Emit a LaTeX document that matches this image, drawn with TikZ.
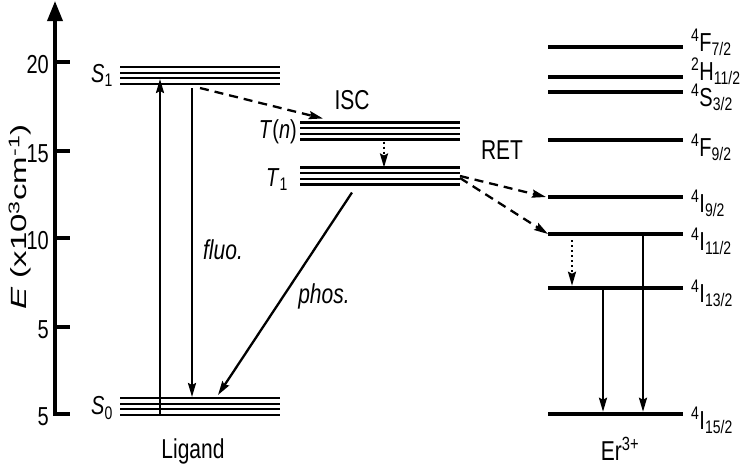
\documentclass[tikz,border=0pt]{standalone}
\usepackage{fontspec}
\setmainfont{Liberation Sans}
\usepackage{graphicx}
\usetikzlibrary{arrows.meta,positioning,calc}
\newcommand{\tallt}[1]{\scalebox{1}[1.3]{#1}}

\begin{document}
\begin{tikzpicture}[x=1pt,y=-1pt,>={Stealth[length=14pt,width=8pt,inset=2pt]},
  level/.style={line width=2.2pt},
  band/.style={minimum width=160pt,minimum height=17pt,inner sep=0pt,outer sep=0pt},
  erlevel/.style={fill=black,minimum width=135pt,minimum height=4.5pt,inner sep=0pt,outer sep=0pt},
  trans/.style={->,line width=2.3pt},
  nonrad/.style={->,line width=2.3pt,dash pattern=on 9pt off 6pt},
  relax/.style={->,line width=2.2pt,dash pattern=on 2pt off 3pt},
  lbl/.style={font=\fontsize{20}{24}\selectfont,inner sep=0pt},
  erlbl/.style={lbl,anchor=west}]
  \useasboundingbox (0,0) rectangle (747,467);

  % energy axis
  \coordinate (ax0) at (55,415);
  \coordinate (axtop) at (55,1);
  \draw[line width=3.5pt,-{Triangle[length=20pt,width=15pt]}] (ax0) -- (axtop);
  \foreach \y/\t in {62/20,151/15,238/10,327/5,414/5} {
    \draw[line width=4.5pt] (53.3,\y) -- (70,\y);
    \node[lbl,anchor=east] (tick\y) at (49,\y+3) {\tallt{\t}};
  }
  \node[lbl,font=\fontsize{22}{26}\selectfont,rotate=90] (ylab) at (20,217) {\scalebox{1.5}[1]{\textit{E} (x10\textsuperscript{3}cm\textsuperscript{-1})}};

  % ligand levels
  \node[band] (S1) at (200,75.5) {};
  \node[band] (S0) at (200,406.5) {};
  \node[band] (Tn) at (380,131) {};
  \node[band] (T1) at (380,176) {};
  \foreach \b in {S1,S0,Tn,T1}
    \foreach \d in {0,5.67,11.33,17}
      \draw[level] ([yshift=-\d pt]\b.north west) -- ([yshift=-\d pt]\b.north east);
  \node[lbl,left=7pt of S1] (lS1) {\tallt{\textit{S}\textsubscript{1}}};
  \node[lbl,left=7pt of S0,yshift=-1.5pt] (lS0) {\tallt{\textit{S}\textsubscript{0}}};
  \node[lbl,left=3pt of Tn,yshift=-1pt] (lTn) {\tallt{\textit{T}(\textit{n})}};
  \node[lbl,left=12pt of T1,yshift=-4pt] (lT1) {\tallt{\textit{T}\textsubscript{1}}};
  \node[lbl,font=\fontsize{21}{24}\selectfont,anchor=base] (lig) at (193,458) {\tallt{Ligand}};

  % Er levels
  \node[erlevel] (F72) at (615.5,47) {};
  \node[erlevel] (H112) at (615.5,77) {};
  \node[erlevel,minimum height=4pt] (S32) at (615.5,92) {};
  \node[erlevel,minimum height=4pt] (F92) at (615.5,140) {};
  \node[erlevel] (I92) at (615.5,197) {};
  \node[erlevel] (I112) at (615.5,234) {};
  \node[erlevel] (I132) at (615.5,288) {};
  \node[erlevel] (I152) at (615.5,414) {};
  \node[erlbl,right=8pt of F72,yshift=5pt] (lF72) {\tallt{\textsuperscript{4}F\textsubscript{7/2}}};
  \node[erlbl,right=8pt of H112,yshift=6pt] (lH112) {\tallt{\textsuperscript{2}H\textsubscript{11/2}}};
  \node[erlbl,right=8pt of S32,yshift=-5pt] (lS32) {\tallt{\textsuperscript{4}S\textsubscript{3/2}}};
  \node[erlbl,right=8pt of F92,yshift=-7pt] (lF92) {\tallt{\textsuperscript{4}F\textsubscript{9/2}}};
  \node[erlbl,right=8pt of I92,yshift=-6pt] (lI92) {\tallt{\textsuperscript{4}I\textsubscript{9/2}}};
  \node[erlbl,right=8pt of I112,yshift=-7pt] (lI112) {\tallt{\textsuperscript{4}I\textsubscript{11/2}}};
  \node[erlbl,right=8pt of I132,yshift=-5pt] (lI132) {\tallt{\textsuperscript{4}I\textsubscript{13/2}}};
  \node[erlbl,right=8pt of I152,yshift=-6pt] (lI152) {\tallt{\textsuperscript{4}I\textsubscript{15/2}}};
  \node[lbl,font=\fontsize{21}{24}\selectfont,anchor=base] (er) at (620,460) {\tallt{Er\textsuperscript{3+}}};

  % transitions
  \draw[trans] ([xshift=-40pt]S0.south) -- ([xshift=-40pt,yshift=5pt]S1.south);
  \draw[trans] ([xshift=-8pt,yshift=-4pt]S1.south) -- ([xshift=-8pt,yshift=1pt]S0.north);
  \draw[trans] ([xshift=-28pt,yshift=-8pt]T1.south) -- ([xshift=18pt,yshift=3pt]S0.north);
  \draw[nonrad] ([yshift=-4pt]S1.south) -- ([xshift=-57pt,yshift=4pt]Tn.north);
  \draw[relax] ([xshift=4pt,yshift=-2pt]Tn.south) -- ([xshift=4pt]T1.north);
  \draw[nonrad] (T1.east) -- ([xshift=-2pt]I92.west);
  \draw[nonrad] ([yshift=-2pt]T1.east) -- (I112.west);
  \draw[relax] ([xshift=-43.5pt,yshift=-4pt]I112.south) -- ([xshift=-43.5pt]I132.north);
  \draw[trans] ([xshift=-12.5pt]I132.south) -- ([xshift=-12.5pt]I152.north);
  \draw[trans] ([xshift=27.5pt]I112.south) -- ([xshift=27.5pt]I152.north);
  \node[lbl,font=\fontsize{21}{24}\selectfont\itshape] (fluo) at (223,250) {\tallt{fluo.}};
  \node[lbl,font=\fontsize{21}{24}\selectfont\itshape] (phos) at (324,296) {\tallt{phos.}};
  \node[lbl,font=\fontsize{21}{24}\selectfont] (isc) at (352,100) {\tallt{ISC}};
  \node[lbl,font=\fontsize{21}{24}\selectfont] (ret) at (502,150) {\tallt{RET}};
\end{tikzpicture}
\end{document}
